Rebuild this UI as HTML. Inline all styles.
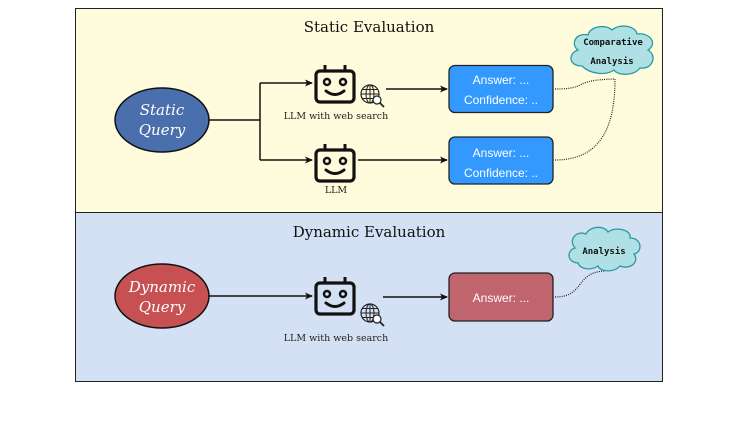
<!DOCTYPE html>
<html><head><style>
html,body{margin:0;padding:0;background:#fff;}
svg{display:block;}
.serif{font-family:"DejaVu Serif","Liberation Serif",serif;}
.sans{font-family:"Liberation Sans",sans-serif;}
.mono{font-family:"DejaVu Sans Mono","Liberation Mono",monospace;font-weight:bold;}
</style></head><body>
<svg width="738" height="432" viewBox="0 0 738 432" xmlns="http://www.w3.org/2000/svg">
<defs>
<marker id="ar" markerWidth="8" markerHeight="8" refX="7" refY="4" orient="auto" markerUnits="userSpaceOnUse">
<path d="M0,0.5 L8,4 L0,7.5 L2,4 Z" fill="#111"/></marker>
<g id="robot">
<rect x="2" y="6" width="38" height="31" rx="4" fill="none" stroke="#111" stroke-width="3.2"/>
<line x1="11" y1="0" x2="11" y2="6" stroke="#111" stroke-width="3"/>
<line x1="31" y1="0" x2="31" y2="6" stroke="#111" stroke-width="3"/>
<circle cx="13" cy="17" r="3" fill="none" stroke="#111" stroke-width="2.5"/>
<circle cx="29" cy="17" r="3" fill="none" stroke="#111" stroke-width="2.5"/>
<path d="M12,26 Q21,33 30,26" fill="none" stroke="#111" stroke-width="3" stroke-linecap="round"/>
</g>
<g id="globe">
<circle cx="10" cy="10" r="9" fill="none" stroke="#222" stroke-width="1.2"/>
<ellipse cx="10" cy="10" rx="4" ry="9" fill="none" stroke="#222" stroke-width="1"/>
<line x1="1" y1="10" x2="19" y2="10" stroke="#222" stroke-width="1"/>
<line x1="2.5" y1="5.5" x2="17.5" y2="5.5" stroke="#222" stroke-width="1"/>
<line x1="2.5" y1="14.5" x2="17.5" y2="14.5" stroke="#222" stroke-width="1"/>
<line x1="10" y1="1" x2="10" y2="19" stroke="#222" stroke-width="1"/>
<circle cx="17" cy="16" r="4" fill="#fff" stroke="#222" stroke-width="1.2"/>
<line x1="20" y1="19" x2="24" y2="23" stroke="#222" stroke-width="1.8"/>
</g>
</defs>
<rect x="75.5" y="8.5" width="587" height="204" fill="#fefcdc" stroke="#222" stroke-width="1"/>
<rect x="75.5" y="212.5" width="587" height="169" fill="#d4e0f3" stroke="#222" stroke-width="1"/>
<text x="369" y="32" class="serif" font-size="15" text-anchor="middle" fill="#111">Static Evaluation</text>
<text x="369" y="237" class="serif" font-size="15" text-anchor="middle" fill="#111">Dynamic Evaluation</text>

<ellipse cx="162" cy="120" rx="47" ry="32" fill="#4a6fac" stroke="#111" stroke-width="1.5"/>
<text x="162" y="115" class="serif" font-size="15" font-style="italic" text-anchor="middle" fill="#fff">Static</text>
<text x="162" y="135" class="serif" font-size="15" font-style="italic" text-anchor="middle" fill="#fff">Query</text>
<path d="M209,120 H260 M260,83 V160" stroke="#111" stroke-width="1.5" fill="none"/>
<path d="M260,83 H312" stroke="#111" stroke-width="1.5" marker-end="url(#ar)"/>
<path d="M260,160 H312" stroke="#111" stroke-width="1.5" marker-end="url(#ar)"/>
<use href="#robot" x="314" y="65"/>
<use href="#globe" x="360" y="84"/>
<text x="336" y="119" class="serif" font-size="9.5" text-anchor="middle" fill="#222">LLM with web search</text>
<use href="#robot" x="314" y="144"/>
<text x="336" y="193" class="serif" font-size="9.5" text-anchor="middle" fill="#222">LLM</text>
<path d="M386,89 H447" stroke="#111" stroke-width="1.5" marker-end="url(#ar)"/>
<path d="M358,160 H447" stroke="#111" stroke-width="1.5" marker-end="url(#ar)"/>
<rect x="449" y="65.5" width="104" height="47" rx="6" fill="#3399ff" stroke="#222" stroke-width="1.3"/>
<text x="501" y="84" class="sans" font-size="12" text-anchor="middle" fill="#fff">Answer: ...</text>
<text x="501" y="104" class="sans" font-size="12" text-anchor="middle" fill="#fff">Confidence: ..</text>
<rect x="449" y="137" width="104" height="47" rx="6" fill="#3399ff" stroke="#222" stroke-width="1.3"/>
<text x="501" y="157" class="sans" font-size="12" text-anchor="middle" fill="#fff">Answer: ...</text>
<text x="501" y="177" class="sans" font-size="12" text-anchor="middle" fill="#fff">Confidence: ..</text>
<path d="M555,89 C590,89 570,80 615,79" stroke="#222" stroke-width="1.2" stroke-dasharray="1,1.2" fill="none"/>
<path d="M555,160 C605,160 615,120 615,79" stroke="#222" stroke-width="1.2" stroke-dasharray="1,1.2" fill="none"/>
<path d="M582,66 C568,66 568,53 578,50 C570,44 576,32 588,35 C590,26 606,24 612,30 C620,23 636,26 637,34 C650,32 658,44 648,50 C658,56 652,70 640,68 C634,76 618,76 614,70 C606,76 590,74 582,66 Z" fill="#aee0e6" stroke="#2a9aa0" stroke-width="1.3"/>
<text x="613" y="45" class="mono" font-size="9" text-anchor="middle" fill="#111">Comparative</text>
<text x="612" y="64" class="mono" font-size="9" text-anchor="middle" fill="#111">Analysis</text>

<ellipse cx="162" cy="296" rx="47" ry="32" fill="#c75052" stroke="#111" stroke-width="1.5"/>
<text x="162" y="292" class="serif" font-size="15" font-style="italic" text-anchor="middle" fill="#fff">Dynamic</text>
<text x="162" y="312" class="serif" font-size="15" font-style="italic" text-anchor="middle" fill="#fff">Query</text>
<path d="M209,296 H312" stroke="#111" stroke-width="1.5" marker-end="url(#ar)"/>
<use href="#robot" x="314" y="277"/>
<use href="#globe" x="360" y="303"/>
<text x="336" y="341" class="serif" font-size="9.5" text-anchor="middle" fill="#222">LLM with web search</text>
<path d="M383,297 H447" stroke="#111" stroke-width="1.5" marker-end="url(#ar)"/>
<rect x="449" y="273" width="104" height="48" rx="6" fill="#c0646e" stroke="#222" stroke-width="1.3"/>
<text x="501" y="302" class="sans" font-size="12" text-anchor="middle" fill="#fff">Answer: ...</text>
<path d="M555,297 C585,297 575,272 605,271" stroke="#222" stroke-width="1.2" stroke-dasharray="1,1.2" fill="none"/>
<path d="M578,263 C566,262 567,250 575,248 C568,240 576,230 586,234 C590,226 604,225 608,232 C616,226 632,230 630,238 C642,238 643,252 634,254 C640,262 630,270 620,266 C614,273 600,272 598,266 C590,271 580,269 578,263 Z" fill="#aee0e6" stroke="#2a9aa0" stroke-width="1.3"/>
<text x="604" y="254" class="mono" font-size="9" text-anchor="middle" fill="#111">Analysis</text>
</svg>
</body></html>
